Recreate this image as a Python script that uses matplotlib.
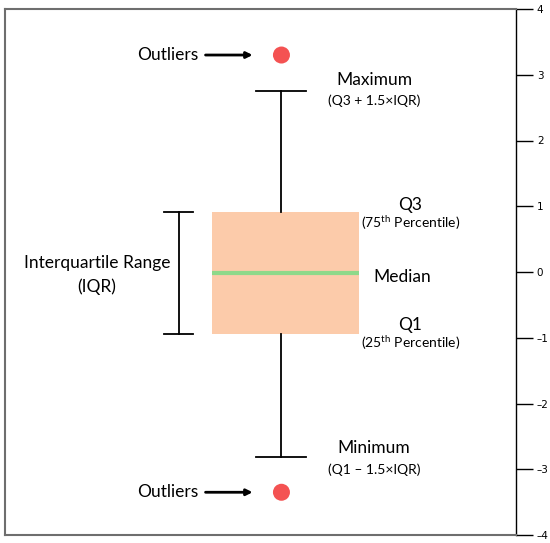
import matplotlib
matplotlib.use("Agg")
import matplotlib.pyplot as plt

plt.rcParams["font.family"] = ["Lato", "DejaVu Sans"]
plt.rcParams["mathtext.fontset"] = "custom"
plt.rcParams["mathtext.rm"] = "Lato"

# box plot summary values (y axis units)
q1 = -0.94
median = -0.02
q3 = 0.92
whisker_low = -2.82
whisker_high = 2.76
outliers = [3.30, -3.35]

# y axis ticks
y_ticks = [-4, -3, -2, -1, 0, 1, 2, 3, 4]

fig = plt.figure(figsize=(5.5, 5.43), dpi=100)
ax = fig.add_axes([5 / 550, 1 - 535 / 543, 511 / 550, 526 / 543])
ax.set_xlim(0, 1)
ax.set_ylim(-4, 4)

xc = 0.541
box_c = 0.549
box_w = 0.288
cap_w = 0.098

# box
ax.add_patch(plt.Rectangle((box_c - box_w / 2, q1), box_w, q3 - q1,
                           facecolor="#FCCBAA", edgecolor="none", zorder=1))
ax.plot([box_c - box_w / 2, box_c + box_w / 2], [median, median],
        color="#8ED98A", lw=3, solid_capstyle="butt", zorder=2)

# whiskers and caps
ax.plot([xc, xc], [q3, whisker_high], color="black", lw=1.3)
ax.plot([xc, xc], [q1, whisker_low], color="black", lw=1.3)
for w in (whisker_high, whisker_low):
    ax.plot([xc - cap_w / 2, xc + cap_w / 2], [w, w], color="black", lw=1.3)

# outliers
ax.scatter([xc] * len(outliers), outliers, s=150, color="#F45252",
           edgecolor="none", zorder=3)

# IQR bracket
bx = 0.34
ax.plot([bx, bx], [q1, q3], color="black", lw=1.3)
for y in (q1, q3):
    ax.plot([bx - 0.028, bx + 0.028], [y, y], color="black", lw=1.3)
ax.text(0.18, 0.14, "Interquartile Range", ha="center", va="center", fontsize=12.5)
ax.text(0.18, -0.23, "(IQR)", ha="center", va="center", fontsize=12.5)

# outlier labels with arrows
for y in outliers:
    ax.text(0.378, y, "Outliers", ha="right", va="center", fontsize=12.5)
    ax.annotate("", xy=(0.49, y), xytext=(0.387, y),
                arrowprops=dict(arrowstyle="-|>", color="black", lw=2,
                                mutation_scale=9))

# right side labels
lx = 0.722
ax.text(lx, 2.92, "Maximum", ha="center", va="center", fontsize=12.5)
ax.text(lx, 2.60, "(Q3 + 1.5\u00d7IQR)", ha="center", va="center", fontsize=10)
ax.text(lx, -2.68, "Minimum", ha="center", va="center", fontsize=12.5)
ax.text(lx, -3.01, "(Q1 \u2013 1.5\u00d7IQR)", ha="center", va="center", fontsize=10)

qx = 0.793
ax.text(qx, 1.02, "Q3", ha="center", va="center", fontsize=12.5)
ax.text(qx, 0.75, r"(75$^{\mathrm{th}}$ Percentile)", ha="center", va="center", fontsize=10)
ax.text(qx, -0.81, "Q1", ha="center", va="center", fontsize=12.5)
ax.text(qx, -1.08, r"(25$^{\mathrm{th}}$ Percentile)", ha="center", va="center", fontsize=10)
ax.text(0.777, -0.08, "Median", ha="center", va="center", fontsize=12.5)

# axes styling
ax.set_xticks([])
ax.yaxis.tick_right()
ax.set_yticks(y_ticks)
ax.set_yticklabels([f"{t:d}".replace("-", "\u2013") for t in y_ticks], fontsize=7.5,
                   family="DejaVu Sans")
ax.tick_params(axis="y", length=12, width=1, pad=3)
for side in ("left", "bottom", "top"):
    ax.spines[side].set_color("#6E6E6E")
    ax.spines[side].set_linewidth(1.5)
ax.spines["right"].set_color("black")
ax.spines["right"].set_linewidth(1)

fig.savefig("out.png", dpi=100)
